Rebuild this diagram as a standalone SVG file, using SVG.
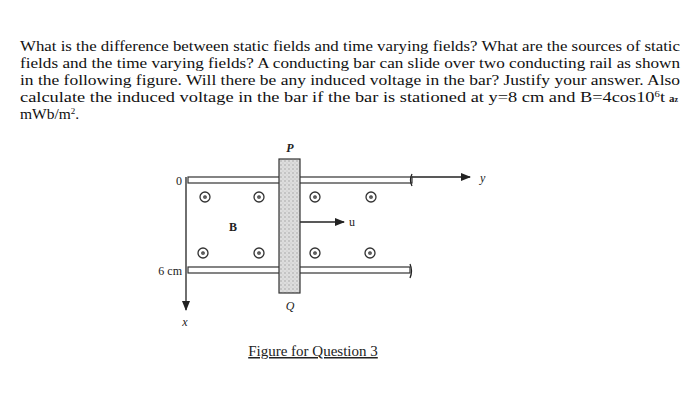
<svg xmlns="http://www.w3.org/2000/svg" width="700" height="414" viewBox="0 0 700 414">
<style>
.t{font-family:"Liberation Serif",serif;font-size:15.5px;fill:#111}
.l{font-family:"Liberation Serif",serif;fill:#222}
.rail{fill:#fff;stroke:#333;stroke-width:1.2}
.dot circle{fill:none;stroke:#333;stroke-width:1.3}
.ln{stroke:#222;stroke-width:1.3;fill:none}
</style>
<defs>
<marker id="ah" markerWidth="10" markerHeight="8" refX="9" refY="4" orient="auto" markerUnits="userSpaceOnUse"><path d="M0,0 L10,4 L0,8 Z" fill="#222"/></marker>
<pattern id="spk" width="4" height="4" patternUnits="userSpaceOnUse"><rect width="4" height="4" fill="#ddd"/><circle cx="1" cy="1" r="0.7" fill="#999"/><circle cx="3" cy="3" r="0.6" fill="#bbb"/></pattern>
</defs>
<rect width="700" height="414" fill="#fff"/>
<g id="question">
<text class="t" x="20" y="51" textLength="660" lengthAdjust="spacingAndGlyphs">What is the difference between static fields and time varying fields? What are the sources of static</text>
<text class="t" x="20" y="68" textLength="660" lengthAdjust="spacingAndGlyphs">fields and the time varying fields? A conducting bar can slide over two conducting rail as shown</text>
<text class="t" x="20" y="85" textLength="660" lengthAdjust="spacingAndGlyphs">in the following figure. Will there be any induced voltage in the bar? Justify your answer. Also</text>
<text class="t" x="20" y="102" textLength="645" lengthAdjust="spacingAndGlyphs">calculate the induced voltage in the bar if the bar is stationed at y=8 cm and B=4cos10<tspan font-size="9" dy="-5">6</tspan><tspan dy="5">t</tspan></text>
<text class="l" x="669" y="102" font-size="11" font-weight="bold">a<tspan font-size="8">z</tspan></text>
<text class="t" x="20" y="119">mWb/m<tspan font-size="9" dy="-5">2</tspan><tspan dy="5">.</tspan></text>
</g>
<g id="connectors">
<line class="ln" x1="186" y1="177" x2="186" y2="310" marker-end="url(#ah)"/>
<line class="ln" x1="412" y1="177" x2="470" y2="177" marker-end="url(#ah)"/>
<line class="ln" x1="300" y1="222" x2="344" y2="222" stroke-width="2.2" marker-end="url(#ah)"/>
</g>
<g id="top-rail">
<rect class="rail" x="188" y="177" width="224" height="6"/>
<path class="ln" d="M412,174 q-3,6 0,12"/>
</g>
<g id="bottom-rail">
<rect class="rail" x="188" y="267" width="222" height="6"/>
<path class="ln" d="M410,264 q3,7 0,14"/>
</g>
<g id="bar">
<rect x="279" y="159" width="21" height="134" fill="url(#spk)" stroke="#333" stroke-width="1.2"/>
</g>
<g id="field" class="dot">
<circle cx="205" cy="197" r="5"/><circle cx="205" cy="197" r="1.2" fill="#222"/>
<circle cx="259" cy="197" r="5"/><circle cx="259" cy="197" r="1.2" fill="#222"/>
<circle cx="315" cy="197" r="5"/><circle cx="315" cy="197" r="1.2" fill="#222"/>
<circle cx="371" cy="197" r="5"/><circle cx="371" cy="197" r="1.2" fill="#222"/>
<circle cx="203" cy="253" r="5"/><circle cx="203" cy="253" r="1.2" fill="#222"/>
<circle cx="259" cy="253" r="5"/><circle cx="259" cy="253" r="1.2" fill="#222"/>
<circle cx="315" cy="253" r="5"/><circle cx="315" cy="253" r="1.2" fill="#222"/>
<circle cx="370" cy="253" r="5"/><circle cx="370" cy="253" r="1.2" fill="#222"/>
</g>
<g id="labels">
<text class="l" x="290" y="152" font-size="12" font-style="italic" font-weight="bold" text-anchor="middle">P</text>
<text class="l" x="290" y="310" font-size="12" font-style="italic" text-anchor="middle">Q</text>
<text class="l" x="182" y="185" font-size="12" text-anchor="end">0</text>
<text class="l" x="182" y="275" font-size="12" text-anchor="end">6 cm</text>
<text class="l" x="185" y="326" font-size="12" font-style="italic" text-anchor="middle">x</text>
<text class="l" x="480" y="182" font-size="12" font-style="italic">y</text>
<text class="l" x="233" y="231" font-size="12" font-weight="bold" text-anchor="middle">B</text>
<text class="l" x="349" y="226" font-size="12">u</text>
</g>
<g id="caption">
<text class="l" x="313" y="356" font-size="15" text-anchor="middle" text-decoration="underline">Figure for Question 3</text>
</g>
</svg>
